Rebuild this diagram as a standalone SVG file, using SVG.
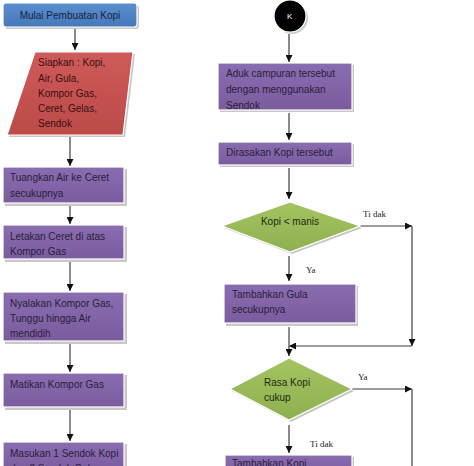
<svg xmlns="http://www.w3.org/2000/svg" width="474" height="466" viewBox="0 0 474 466">
<style>
.t{font-family:"Liberation Sans",Arial,sans-serif;font-size:10px;fill:#2b1d3a}
.lbl{font-family:"Liberation Serif","Times New Roman",serif;font-size:9px;fill:#222}
.sh{fill:#c8c8c8}
.pb{fill:url(#gp);stroke:#fff;stroke-width:1.2}
.ln{stroke:#3a3a3a;stroke-width:1.2;fill:none}
.lg{stroke:#666;stroke-width:1.5;fill:none}
</style>
<defs>
<linearGradient id="gp" x1="0" y1="0" x2="0" y2="1"><stop offset="0" stop-color="#8a6db0"/><stop offset="1" stop-color="#7a5c9e"/></linearGradient>
<linearGradient id="gb" x1="0" y1="0" x2="0" y2="1"><stop offset="0" stop-color="#5a8fd0"/><stop offset="1" stop-color="#4678b8"/></linearGradient>
<linearGradient id="gr" x1="0" y1="0" x2="0" y2="1"><stop offset="0" stop-color="#cf5a5a"/><stop offset="1" stop-color="#bb4a48"/></linearGradient>
<linearGradient id="gg" x1="0" y1="0" x2="0" y2="1"><stop offset="0" stop-color="#a4c462"/><stop offset="1" stop-color="#8fb04f"/></linearGradient>
<marker id="ar" viewBox="0 0 10 10" refX="10" refY="5" markerWidth="7" markerHeight="7" orient="auto" markerUnits="userSpaceOnUse"><path d="M0,0 L10,5 L0,10 z" fill="#111"/></marker>
<clipPath id="cAduk"><rect x="218" y="63" width="134" height="47"/></clipPath>
</defs>

<g id="connectors">
<line class="ln" x1="75" y1="28" x2="75" y2="50" marker-end="url(#ar)"/>
<line class="lg" x1="70" y1="137" x2="70" y2="166" marker-end="url(#ar)"/>
<line class="lg" x1="70" y1="205" x2="70" y2="224" marker-end="url(#ar)"/>
<line class="lg" x1="70" y1="261" x2="70" y2="291" marker-end="url(#ar)"/>
<line class="lg" x1="70" y1="343" x2="70" y2="372" marker-end="url(#ar)"/>
<line class="lg" x1="70" y1="410" x2="70" y2="441" marker-end="url(#ar)"/>
<line class="ln" x1="289" y1="34" x2="289" y2="62" marker-end="url(#ar)"/>
<line class="ln" x1="289" y1="113" x2="289" y2="140" marker-end="url(#ar)"/>
<line class="ln" x1="289" y1="168" x2="289" y2="199" marker-end="url(#ar)"/>
<polyline class="ln" points="360,226 412,226" marker-end="url(#ar)"/>
<line class="lg" x1="412" y1="226" x2="412" y2="346" marker-end="url(#ar)"/>
<line class="ln" x1="412" y1="346" x2="289" y2="346" marker-end="url(#ar)"/>
<line class="ln" x1="289" y1="256" x2="289" y2="281" marker-end="url(#ar)"/>
<line class="lg" x1="289" y1="327" x2="289" y2="346"/>
<line class="ln" x1="289" y1="346" x2="289" y2="356" marker-end="url(#ar)"/>
<line class="ln" x1="352" y1="389" x2="412" y2="389" marker-end="url(#ar)"/>
<line class="lg" x1="412" y1="389" x2="412" y2="466"/>
<line class="ln" x1="289" y1="425" x2="289" y2="453" marker-end="url(#ar)"/>
<text class="lbl" x="363" y="217">Ti dak</text>
<text class="lbl" x="306" y="273">Ya</text>
<text class="lbl" x="358" y="380">Ya</text>
<text class="lbl" x="310" y="447">Ti dak</text>
</g>

<g id="start">
<rect class="sh" x="5" y="5" width="134" height="24" rx="3"/>
<rect x="3" y="3" width="134" height="24" rx="3" fill="url(#gb)" stroke="#fff" stroke-width="1.2"/>
<text class="t" x="70" y="19" text-anchor="middle" style="fill:#16233f">Mulai Pembuatan Kopi</text>
</g>

<g id="siapkan">
<polygon class="sh" points="37,54 135,54 125,137 9,137"/>
<polygon points="35,52 133,52 123,135 7,135" fill="url(#gr)" stroke="#fff" stroke-width="1.2"/>
<text class="t" x="38" y="66" style="fill:#3a1010">Siapkan : Kopi,</text>
<text class="t" x="38" y="82" style="fill:#3a1010">Air, Gula,</text>
<text class="t" x="38" y="97" style="fill:#3a1010">Kompor Gas,</text>
<text class="t" x="38" y="112" style="fill:#3a1010">Ceret, Gelas,</text>
<text class="t" x="38" y="127" style="fill:#3a1010">Sendok</text>
</g>

<g id="tuangkan">
<rect class="sh" x="5" y="169" width="122" height="37"/>
<rect class="pb" x="3" y="167" width="121" height="36"/>
<text class="t" x="10" y="181">Tuangkan Air ke Ceret</text>
<text class="t" x="10" y="197">secukupnya</text>
</g>

<g id="letakan">
<rect class="sh" x="5" y="227" width="122" height="35"/>
<rect class="pb" x="3" y="225" width="121" height="34"/>
<text class="t" x="10" y="240">Letakan Ceret di atas</text>
<text class="t" x="10" y="255">Kompor Gas</text>
</g>

<g id="nyalakan">
<rect class="sh" x="5" y="294" width="122" height="50"/>
<rect class="pb" x="3" y="292" width="121" height="49"/>
<text class="t" x="10" y="307">Nyalakan Kompor Gas,</text>
<text class="t" x="10" y="322">Tunggu hingga Air</text>
<text class="t" x="10" y="337">mendidih</text>
</g>

<g id="matikan">
<rect class="sh" x="5" y="375" width="122" height="35"/>
<rect class="pb" x="3" y="373" width="121" height="34"/>
<text class="t" x="10" y="388">Matikan Kompor Gas</text>
</g>

<g id="masukan">
<rect class="sh" x="5" y="444" width="122" height="30"/>
<rect class="pb" x="3" y="442" width="121" height="30"/>
<text class="t" x="10" y="457">Masukan 1 Sendok Kopi</text>
<text class="t" x="10" y="472">dan 2 Sendok Gula</text>
</g>

<g id="k">
<circle cx="292" cy="18" r="16" fill="#ccc"/>
<circle cx="290" cy="16" r="16" fill="#000" stroke="#fff" stroke-width="1.2"/>
<text x="287" y="19" style="font-family:'Liberation Sans',Arial,sans-serif;font-size:8px;fill:#fff">K</text>
</g>

<g id="aduk">
<rect class="sh" x="220" y="65" width="134" height="47"/>
<rect class="pb" x="218" y="63" width="134" height="47"/>
<g clip-path="url(#cAduk)">
<text class="t" x="226" y="77">Aduk campuran tersebut</text>
<text class="t" x="226" y="93">dengan menggunakan</text>
<text class="t" x="226" y="109">Sendok</text>
</g>
</g>

<g id="dirasakan">
<rect class="sh" x="220" y="144" width="134" height="23"/>
<rect class="pb" x="218" y="142" width="134" height="23"/>
<text class="t" x="226" y="156">Dirasakan Kopi tersebut</text>
</g>

<g id="d1">
<polygon class="sh" points="292,204 362,228 292,254 224,228"/>
<polygon points="290,202 360,226 290,252 222,226" fill="url(#gg)" stroke="#fff" stroke-width="1.2"/>
<text class="t" x="290" y="225" text-anchor="middle" style="fill:#1f2a10">Kopi &lt; manis</text>
</g>

<g id="gula">
<rect class="sh" x="226" y="286" width="132" height="40"/>
<rect class="pb" x="224" y="284" width="132" height="39"/>
<text class="t" x="232" y="298">Tambahkan Gula</text>
<text class="t" x="232" y="313">secukupnya</text>
</g>

<g id="d2">
<polygon class="sh" points="291,360 354,391 291,422 232,391"/>
<polygon points="289,358 352,389 289,420 230,389" fill="url(#gg)" stroke="#fff" stroke-width="1.2"/>
<text class="t" x="264" y="386" style="fill:#1f2a10">Rasa Kopi</text>
<text class="t" x="264" y="401" style="fill:#1f2a10">cukup</text>
</g>

<g id="kopi">
<rect class="sh" x="227" y="457" width="127" height="20"/>
<rect class="pb" x="225" y="455" width="127" height="20"/>
<text class="t" x="232" y="467">Tambahkan Kopi</text>
</g>
</svg>
